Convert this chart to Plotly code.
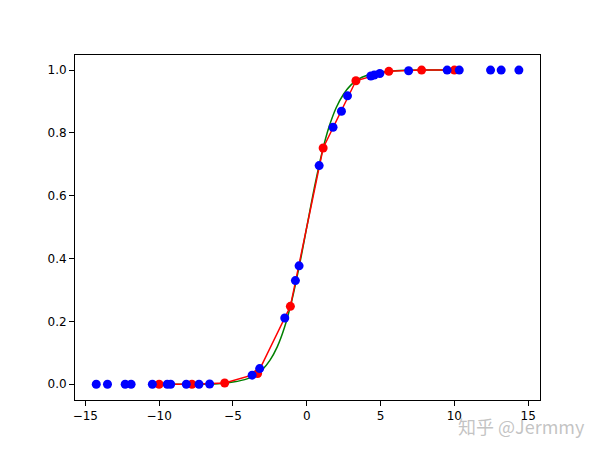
import plotly.graph_objects as go

# smooth reference curve (green)
curve_x = [-10, -8, -6, -5, -4, -3.5, -3, -2.5, -2, -1.5, -1, -0.5, 0,
           0.5, 1, 1.5, 2, 2.5, 3, 3.5, 4, 5, 6, 8, 10]
curve_y = [0.000, 0.000, 0.002, 0.007, 0.018, 0.029, 0.047, 0.076, 0.119, 0.182,
           0.269, 0.378, 0.500, 0.622, 0.731, 0.818, 0.881, 0.924, 0.953, 0.971,
           0.982, 0.993, 0.998, 1.000, 1.000]

# sample points joined by straight segments (red)
knot_x = [-10, -7.78, -5.56, -3.33, -1.11, 1.11, 3.33, 5.56, 7.78, 10]
knot_y = [0.000, 0.000, 0.004, 0.034, 0.248, 0.752, 0.966, 0.996, 1.000, 1.000]

# query points (blue)
query_x = [-14.26, -13.5, -12.3, -11.9, -10.46, -9.45, -9.22, -8.16, -7.3, -6.58,
           -3.7, -3.19, -1.49, -0.77, -0.52, 0.84, 1.78, 2.35, 2.76, 4.34,
           4.57, 4.95, 6.9, 9.51, 10.33, 12.45, 13.17, 14.37]
query_y = [0.000, 0.000, 0.000, 0.000, 0.000, 0.000, 0.000, 0.000, 0.000, 0.001,
           0.029, 0.050, 0.211, 0.330, 0.377, 0.696, 0.818, 0.869, 0.918, 0.981,
           0.984, 0.989, 0.998, 1.000, 1.000, 1.000, 1.000, 1.000]

fig = go.Figure()

fig.add_trace(go.Scatter(
    x=curve_x, y=curve_y,
    mode='lines',
    line=dict(color='green', width=1.5, shape='spline', smoothing=1.0)))

fig.add_trace(go.Scatter(
    x=knot_x, y=knot_y,
    mode='lines+markers',
    line=dict(color='red', width=1.5),
    marker=dict(color='red', size=9)))

fig.add_trace(go.Scatter(
    x=query_x, y=query_y,
    mode='markers',
    marker=dict(color='blue', size=9)))

axis_style = dict(
    showgrid=False, zeroline=False,
    showline=True, linecolor='black', linewidth=1, mirror=True,
    ticks='outside', ticklen=5, tickcolor='black',
    tickfont=dict(family='DejaVu Sans', size=12, color='black'))

fig.update_layout(
    width=600, height=450,
    showlegend=False,
    plot_bgcolor='white', paper_bgcolor='white',
    margin=dict(l=67, r=68, t=47, b=58),
    xaxis=dict(range=[-15.7, 15.8], tickvals=[-15, -10, -5, 0, 5, 10, 15], **axis_style),
    yaxis=dict(range=[-0.05, 1.048], tickvals=[0, 0.2, 0.4, 0.6, 0.8, 1.0],
               tickformat='.1f', **axis_style))

# watermark
fig.add_annotation(
    x=1.1, y=-0.075, xref='paper', yref='paper',
    xanchor='right', yanchor='middle', showarrow=False,
    text='知乎 @Jermmy',
    font=dict(family='Noto Sans CJK SC', size=18, color='rgba(185,185,185,0.85)'))

fig.write_html("out.html")
